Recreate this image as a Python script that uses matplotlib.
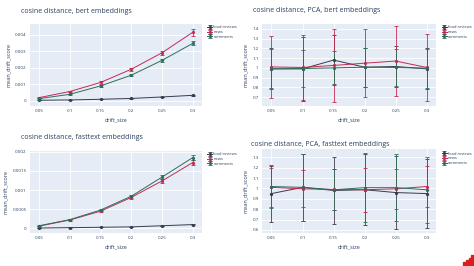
"""Drift score vs drift size for bert / fasttext embeddings, plotly-like look."""

import matplotlib

matplotlib.use("Agg")
import matplotlib.pyplot as plt
from matplotlib.patches import Rectangle

drift_size = [0.05, 0.1, 0.15, 0.2, 0.25, 0.3]
x_labels = ["0.05", "0.1", "0.15", "0.2", "0.25", "0.3"]
series_names = ["food reviews", "news", "comments"]
colors = ["#3a3a4c", "#c42a52", "#2b6e5a"]

# cosine distance, bert embeddings
bert_mean = [
    [0.00002, 0.00004, 0.00008, 0.00013, 0.00022, 0.00032],
    [0.00018, 0.00055, 0.0011, 0.0019, 0.0029, 0.00414],
    [0.00012, 0.00038, 0.00089, 0.00154, 0.00244, 0.00347],
]
bert_err = [
    [0.00001, 0.00001, 0.00001, 0.00002, 0.00002, 0.00002],
    [0.00003, 0.00005, 0.00007, 0.0001, 0.00013, 0.00023],
    [0.00002, 0.00004, 0.00006, 0.00007, 0.0001, 0.00012],
]
bert_yticks = [0, 0.001, 0.002, 0.003, 0.004]
bert_ylabels = ["0", "0.001", "0.002", "0.003", "0.004"]

# cosine distance, PCA, bert embeddings
bert_pca_mean = [
    [0.99, 0.99, 1.08, 1.007, 1.014, 0.99],
    [1.01, 1.004, 1.025, 1.048, 1.07, 1.004],
    [0.99, 0.993, 1.0, 1.007, 1.004, 0.997],
]
bert_pca_err = [
    [0.21, 0.33, 0.26, 0.2, 0.21, 0.21],
    [0.32, 0.33, 0.37, 0.35, 0.36, 0.34],
    [0.2, 0.19, 0.17, 0.2, 0.19, 0.2],
]
bert_pca_yticks = [0.7, 0.8, 0.9, 1.0, 1.1, 1.2, 1.3, 1.4]
bert_pca_ylabels = ["0.7", "0.8", "0.9", "1", "1.1", "1.2", "1.3", "1.4"]

# cosine distance, fasttext embeddings
ft_mean = [
    [0.00001, 0.00002, 0.00003, 0.00004, 0.00007, 0.0001],
    [0.00006, 0.00022, 0.00045, 0.00081, 0.00124, 0.00172],
    [0.00007, 0.00023, 0.00048, 0.00084, 0.00134, 0.00185],
]
ft_err = [
    [0.000005, 0.000005, 0.000005, 0.000005, 0.000006, 0.000008],
    [0.00001, 0.00002, 0.00003, 0.00004, 0.00005, 0.00006],
    [0.00001, 0.00002, 0.00003, 0.00004, 0.00005, 0.00006],
]
ft_yticks = [0, 0.0005, 0.001, 0.0015, 0.002]
ft_ylabels = ["0", "0.0005", "0.001", "0.0015", "0.002"]

# cosine distance, PCA, fasttext embeddings
ft_pca_mean = [
    [0.95, 1.01, 0.98, 0.987, 0.96, 0.95],
    [1.01, 0.996, 0.99, 0.987, 0.996, 1.018],
    [1.018, 1.01, 0.987, 1.007, 1.007, 0.987],
]
ft_pca_err = [
    [0.27, 0.32, 0.32, 0.34, 0.35, 0.33],
    [0.19, 0.18, 0.2, 0.21, 0.19, 0.2],
    [0.21, 0.32, 0.2, 0.33, 0.32, 0.32],
]
ft_pca_yticks = [0.6, 0.7, 0.8, 0.9, 1.0, 1.1, 1.2, 1.3]
ft_pca_ylabels = ["0.6", "0.7", "0.8", "0.9", "1", "1.1", "1.2", "1.3"]

plt.rcParams["font.family"] = ["Open Sans", "DejaVu Sans"]
TXT = "#2a3f5f"
BG = "#e5ecf6"

fig = plt.figure(figsize=(4.74, 2.66), dpi=100)

panels = [
    # (rect, title, title_xy, legend_xy, means, errs, yticks, ylabels, ylim)
    ([0.063, 0.602, 0.363, 0.308], "cosine distance, bert embeddings", (0.044, 0.958),
     (0.437, 0.905), bert_mean, bert_err, bert_yticks, bert_ylabels, (-0.00032, 0.00465)),
    ([0.553, 0.602, 0.367, 0.308], "cosine distance, PCA, bert embeddings", (0.534, 0.962),
     (0.932, 0.905), bert_pca_mean, bert_pca_err, bert_pca_yticks, bert_pca_ylabels, (0.611, 1.45)),
    ([0.063, 0.124, 0.363, 0.308], "cosine distance, fasttext embeddings", (0.044, 0.482),
     (0.437, 0.428), ft_mean, ft_err, ft_yticks, ft_ylabels, (-0.00012, 0.00202)),
    ([0.553, 0.124, 0.367, 0.316], "cosine distance, PCA, fasttext embeddings", (0.530, 0.455),
     (0.932, 0.43), ft_pca_mean, ft_pca_err, ft_pca_yticks, ft_pca_ylabels, (0.57, 1.38)),
]

for rect, title, txy, lxy, means, errs, yticks, ylabels, ylim in panels:
    ax = fig.add_axes(rect)
    ax.set_facecolor(BG)
    for s in ax.spines.values():
        s.set_visible(False)
    ax.grid(True, color="white", linewidth=0.6)
    ax.set_axisbelow(True)
    handles = []
    for name, col, m, e in zip(series_names, colors, means, errs):
        h = ax.errorbar(drift_size, m, yerr=e, color=col, linewidth=0.7, elinewidth=0.6,
                        capsize=1.2, capthick=0.6, marker="o", markersize=1.3, label=name)
        handles.append(h)
    ax.set_xlim(0.035, 0.315)
    ax.set_ylim(*ylim)
    ax.set_xticks(drift_size)
    ax.set_xticklabels(x_labels)
    ax.set_yticks(yticks)
    ax.set_yticklabels(ylabels)
    ax.tick_params(length=0, labelsize=3.2, colors=TXT, pad=2.5)
    ax.set_xlabel("drift_size", fontsize=4.0, color=TXT, labelpad=3)
    ax.set_ylabel("mean_drift_score", fontsize=4.0, color=TXT, labelpad=3)
    fig.text(txy[0], txy[1], title, fontsize=5.0, color=TXT, va="center", ha="left")
    fig.legend(handles, series_names, loc="upper left", bbox_to_anchor=lxy, frameon=False,
               fontsize=2.9, labelcolor=TXT, handlelength=1.2, handletextpad=0.35,
               labelspacing=0.2, borderpad=0, borderaxespad=0)

# small red logo in the bottom right corner
logo_heights = [4, 6, 8, 11]
for i, hgt in enumerate(logo_heights):
    fig.patches.append(Rectangle(((463 + i * 2.8) / 474, 0), 1.8 / 474, hgt / 266,
                                 transform=fig.transFigure, color="#d62020"))

fig.savefig("out.png", dpi=100)
